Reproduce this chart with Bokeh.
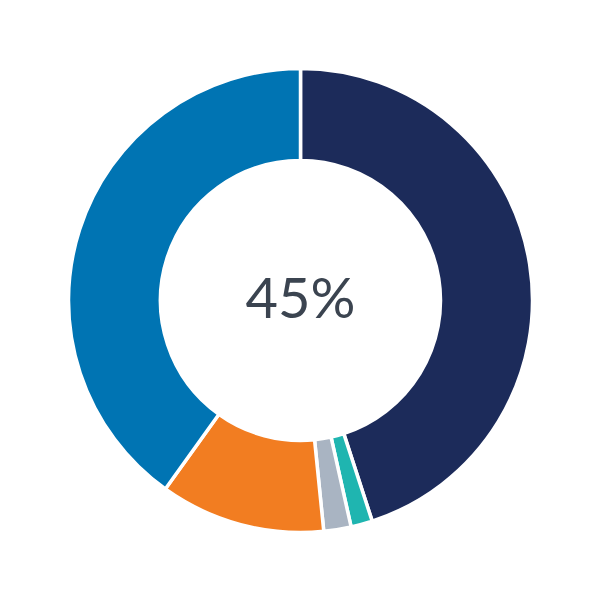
import math
from bokeh.plotting import figure
from bokeh.models import ColumnDataSource, Range1d
from bokeh.core.properties import value
from bokeh.embed import file_html
from bokeh.resources import INLINE

categories = ["Navy", "Teal", "Gray", "Orange", "Blue"]
shares = [45.0, 1.5, 1.9, 11.5, 40.1]
colors = ["#1c2b5a", "#1fb5b0", "#a9b4c2", "#f27d21", "#0074b3"]
center_label = "45%"

total = sum(shares)
starts, ends = [], []
cum = 0.0
for s in shares:
    starts.append(math.pi / 2 - cum / total * 2 * math.pi)
    cum += s
    ends.append(math.pi / 2 - cum / total * 2 * math.pi)

src = ColumnDataSource(dict(cat=categories, start=starts, end=ends, color=colors))

p = figure(width=584, height=584, output_backend="svg", toolbar_location=None,
           x_range=Range1d(-300, 284), y_range=Range1d(-284, 300),
           min_border=0, outline_line_color=None)
p.axis.visible = False
p.grid.visible = False
p.background_fill_color = "white"

p.annular_wedge(x=0, y=0, inner_radius=140, outer_radius=232,
                start_angle="start", end_angle="end", direction="clock",
                fill_color="color", line_color="white", line_width=3.5, source=src)

p.text(x=[0], y=[4], text=[center_label], text_align="center", text_baseline="middle",
       text_font=value("Lato"), text_font_size="56px", text_color="#3b4450")

open("out.html", "w").write(file_html(p, INLINE))
